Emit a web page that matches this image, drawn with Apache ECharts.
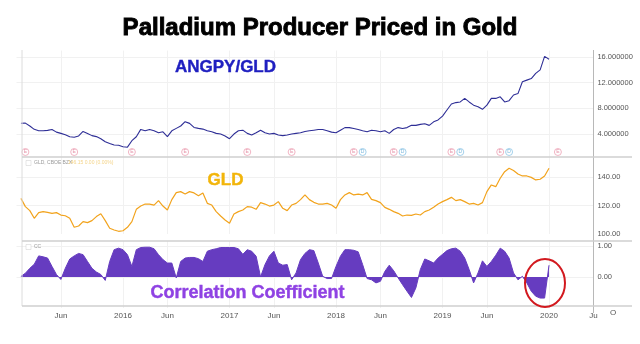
<!DOCTYPE html>
<html>
<head>
<meta charset="utf-8">
<title>Palladium Producer Priced in Gold</title>
<script src="https://cdn.jsdelivr.net/npm/echarts@6/dist/echarts.min.js"></script>
<style>
html,body{margin:0;padding:0;background:#fff;}
#main{width:640px;height:344px;}
</style>
</head>
<body>
<div id="main"></div>
<script>
// half-month slots, Jan 2015 .. Jun 2020
var dates = [];
for (var k = 0; k <= 130; k++) {
	var m = Math.floor(k / 2);
	var yr = 2015 + Math.floor(m / 12);
	var mm = m % 12 + 1;
	dates.push(yr + '-' + (mm < 10 ? '0' : '') + mm + (k % 2 ? '-16' : '-01'));
}

// ANGPY / GLD ratio
var ratio = [null, 5.67,5.7,5.25,4.73,4.52,4.5,4.57,4.7,4.3,4.1,
	3.9,3.58,3.5,3.7,4.41,4.1,3.75,3.6,3.27,2.8,
	2.54,2.29,2.25,2.03,1.95,2.96,3.58,4.72,4.5,4.72,
	4.5,4.2,4.35,3.6,4.5,4.88,5.25,5.92,5.66,5.03,
	4.88,4.77,4.52,4.35,4.1,4.0,3.7,3.27,4.0,4.5,
	4.6,4.1,3.85,4.2,4.6,4.2,4.0,4.1,3.85,3.75,
	3.85,4.0,4.1,4.2,4.4,4.5,4.6,4.7,4.7,4.5,
	4.3,4.2,4.6,5.0,5.0,4.85,4.7,4.5,4.35,4.6,
	4.5,4.35,4.5,4.1,4.7,5.0,4.85,5.0,5.35,5.35,
	5.5,5.6,5.35,5.9,6.2,6.8,7.74,8.68,8.9,9.0,
	9.55,9.0,8.5,8.25,7.85,8.5,9.55,9.55,9.8,9.0,
	9.2,10.08,10.3,12.15,12.4,12.65,13.45,14.0,16.1,15.65];

// GLD price
var gld = [null, 125.0,119.2,116.4,111.0,115.0,115.7,115.2,114.5,115.0,113.3,
	112.8,111.0,104.7,105.6,108.7,108,109.4,112.2,114.2,109.4,
	104.0,102.8,101.9,102.3,104.7,108.7,117.3,119.6,121.0,121,
	120.3,123.4,119.6,116.8,124.1,129.0,129.7,128.0,129.7,128.8,
	126.9,128.8,121.5,120.3,115.7,112.6,109.8,107.5,114,115.7,
	116.8,119.2,118.8,117.3,122,121,119.6,120.3,122.7,118,
	116.4,120.3,121.5,124.1,127.4,124.1,122.2,121,121,121.5,
	120.3,118,124.1,127.4,129.0,127.4,128,127.4,129,124.3,
	123.4,122,118.7,117.3,115.7,114.5,112.6,113.3,113.1,114,
	113.3,115.7,116.8,118.8,121,122.7,124.1,125.7,123.4,124.1,
	122.7,121,121.5,120.3,122,129.7,134.4,133.2,139.1,143.7,
	146.1,144.5,142.1,140.7,140.7,139.7,137.9,138.4,140.7,146.1];

// correlation coefficient
var corr = [null, 0.02,0.12,0.28,0.41,0.68,0.65,0.61,0.34,0.08,-0.08,
	0.28,0.58,0.68,0.76,0.72,0.5,0.28,0.16,0.08,-0.11,
	0.5,0.88,0.93,0.88,0.72,0.34,0.88,0.95,0.96,0.96,
	0.91,0.72,0.56,0.45,0.45,-0.03,0.5,0.61,0.63,0.63,
	0.59,0.5,0.83,0.88,0.91,0.95,0.95,0.95,0.95,0.91,
	0.73,0.88,0.83,0.67,0.0,0.4,0.68,0.83,0.45,0.38,
	0.4,-0.09,0.13,0.56,0.76,0.88,0.85,0.45,0.02,-0.05,
	-0.05,0.34,0.67,0.88,0.88,0.86,0.81,0.4,-0.05,-0.09,
	-0.19,-0.14,0.18,0.38,0.2,-0.03,-0.25,-0.46,-0.66,-0.35,
	0.24,0.58,0.52,0.45,0.61,0.73,0.85,0.91,0.93,0.83,
	0.61,0.24,-0.19,0.13,0.52,0.34,0.5,0.7,0.93,0.83,
	0.61,0.13,-0.09,0.02,-0.19,-0.46,-0.62,-0.68,-0.68,0.38];

// event markers (slot index)
var earnIdx = [2,13,26,38,52,62,76,85,98,109,122];
var divIdx = [78,87,100,111];

function isTick(idx){
	var v = dates[idx];
	if (idx == 0 || v.slice(8) != '01') return false;
	return v.slice(5,7) == '01' || v.slice(5,7) == '06';
}

var gridLine = '#f1f1f1';
var lblStyle = {color:'#555', fontSize:7.5, fontFamily:'Liberation Sans'};

function xAx(i, showLbl){
	return {
		type:'category', gridIndex:i, data:dates, boundaryGap:false,
		axisLine:{show:false}, axisTick:{show:false},
		splitLine:{show:true, interval:function(idx){ return isTick(idx); }, lineStyle:{color:gridLine}},
		axisLabel:{
			show:showLbl, margin:4, color:'#555', fontSize:8, fontFamily:'Liberation Sans',
			interval:function(idx){ return isTick(idx); },
			formatter:function(val, idx){
				if (val.slice(5,7) == '01') return val.slice(0,4);
				return idx == 130 ? 'Ju' : 'Jun';
			}
		}
	};
}
function yAx(i, min, max, step, dec){
	return {
		type:'value', gridIndex:i, position:'right', min:min, max:max, interval:step,
		axisLine:{show:false}, axisTick:{show:false},
		splitLine:{show:true, showMinLine:false, showMaxLine:false, lineStyle:{color:gridLine}},
		axisLabel:Object.assign({margin:4, formatter:function(v){
			if (v <= min && i == 0) return '';
			if (Math.abs(v / step - Math.round(v / step)) > 1e-6 || v < 0) return '';
			return v.toFixed(dec);
		}}, lblStyle)
	};
}

var marks = [];
earnIdx.forEach(function(ix){ marks.push({value:[ix, 1.2], name:'E'}); });
var dmarks = [];
divIdx.forEach(function(ix){ dmarks.push({value:[ix, 1.2], name:'D'}); });

function ln(x1,y1,x2,y2,c,w){
	return {type:'line', z:50, silent:true, shape:{x1:x1,y1:y1,x2:x2,y2:y2}, style:{stroke:c, lineWidth:w||1}};
}

var myChart = echarts.init(document.getElementById('main'));
var option = {
	animation:false,
	backgroundColor:'#fff',
	title:{
		text:'Palladium Producer Priced in Gold', left:'center', top:11,
		textStyle:{fontSize:24, fontWeight:'bold', color:'#000', fontFamily:'Liberation Sans',
			textBorderColor:'#000', textBorderWidth:0.9}
	},
	grid:[
		{left:16.5, right:46.6, top:50.6, bottom:184.3},
		{left:16.5, right:46.6, top:157, bottom:110},
		{left:16.5, right:46.6, top:241, bottom:36}
	],
	xAxis:[xAx(0,false), xAx(1,false), xAx(2,true)],
	yAxis:[yAx(0,0,17,4,6), yAx(1,100,154,20,2), yAx(2,-1,1.16,1,2)],
	series:[
		{
			name:'ANGPY/GLD', type:'line', xAxisIndex:0, yAxisIndex:0, data:ratio,
			showSymbol:false, lineStyle:{color:'#2e2e96', width:1.1}
		},
		{
			name:'E', type:'scatter', xAxisIndex:0, yAxisIndex:0, data:marks, symbolSize:7,
			itemStyle:{color:'#fff', borderColor:'#eda3b5', borderWidth:1},
			label:{show:true, position:'inside', formatter:'{b}', fontSize:5, color:'#e07a95'}
		},
		{
			name:'D', type:'scatter', xAxisIndex:0, yAxisIndex:0, data:dmarks, symbolSize:7,
			itemStyle:{color:'#fff', borderColor:'#8fc6e6', borderWidth:1},
			label:{show:true, position:'inside', formatter:'{b}', fontSize:5, color:'#5aa7d6'}
		},
		{
			name:'GLD', type:'line', xAxisIndex:1, yAxisIndex:1, data:gld,
			showSymbol:false, lineStyle:{color:'#f2a31c', width:1.2}
		},
		{
			name:'CC', type:'line', xAxisIndex:2, yAxisIndex:2, data:corr,
			showSymbol:false, lineStyle:{color:'#663cc0', width:1},
			areaStyle:{color:'#663cc0', opacity:1}
		}
	],
	graphic:[
		ln(22,50,22,306,'#dcdcdc'),
		ln(593.5,50,593.5,313,'#b8b8b8'),
		ln(22,157,632,157,'#cfcfcf',1.5),
		ln(22,241,632,241,'#cfcfcf',1.5),
		ln(22,306,632,306,'#cfcfcf',1.5),
		{type:'text', z:60, style:{text:'ANGPY/GLD', x:225.5, y:67, align:'center', verticalAlign:'middle',
			font:'bold 17px "Liberation Sans"', fill:'#1f1fc0', stroke:'#1f1fc0', lineWidth:0.4}},
		{type:'text', z:60, style:{text:'GLD', x:225.5, y:180, align:'center', verticalAlign:'middle',
			font:'bold 17px "Liberation Sans"', fill:'#f2b50a', stroke:'#f2b50a', lineWidth:0.4}},
		{type:'text', z:60, style:{text:'Correlation Coefficient', x:247.5, y:293, align:'center', verticalAlign:'middle',
			font:'bold 18px "Liberation Sans"', fill:'#8f42e3', stroke:'#8f42e3', lineWidth:0.4}},
		{type:'ellipse', z:60, shape:{cx:545, cy:283, rx:20, ry:24}, style:{fill:null, stroke:'#d2191f', lineWidth:2}},
		{type:'rect', z:60, shape:{x:26, y:160.5, width:5, height:5}, style:{fill:'#fff', stroke:'#ccc', lineWidth:0.5}},
		{type:'text', z:60, style:{text:'GLD, CBOE BZX', x:34, y:163, verticalAlign:'middle', font:'5px "Liberation Sans"', fill:'#999'}},
		{type:'text', z:60, style:{text:'146.15 0.00 (0.00%)', x:68, y:163, verticalAlign:'middle', font:'5px "Liberation Sans"', fill:'#f4d48a'}},
		{type:'rect', z:60, shape:{x:26, y:244.5, width:5, height:5}, style:{fill:'#fff', stroke:'#ccc', lineWidth:0.5}},
		{type:'text', z:60, style:{text:'CC', x:34, y:247, verticalAlign:'middle', font:'5px "Liberation Sans"', fill:'#999'}},
		{type:'text', z:60, style:{text:'O', x:613, y:313, align:'center', verticalAlign:'middle', font:'8px "Liberation Sans"', fill:'#555'}}
	]
};
myChart.setOption(option);
</script>
</body>
</html>
